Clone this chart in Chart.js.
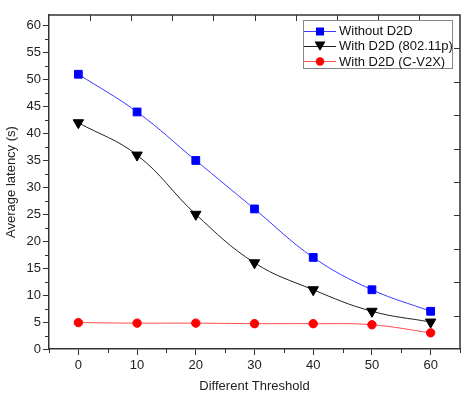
<!DOCTYPE html>
<html><head><meta charset="utf-8">
<script src="https://cdn.jsdelivr.net/npm/chart.js@4.4.0/dist/chart.umd.min.js"></script>
<style>
body{margin:0;background:#fff}
#wrap{position:relative;width:474px;height:397px}
#legend{position:absolute;left:303px;top:20px;width:150px;height:49px;border:1px solid #888;background:#fff;
font:13px "Liberation Sans",Arial,sans-serif;color:#111;box-sizing:border-box;padding-top:2px}
.row{display:flex;align-items:center;height:15.3px;white-space:nowrap}
.row canvas{margin-left:0;margin-right:3px}
</style></head>
<body><div id="wrap"><canvas id="c" width="474" height="397"></canvas><div id="legend"></div></div>
<script>
const categories = [0, 10, 20, 30, 40, 50, 60];
const withoutD2D = [51, 44, 35, 26, 17, 11, 7];
const with80211p = [42, 36, 25, 16, 11, 7, 5];
const withCV2X = [4.9, 4.8, 4.8, 4.7, 4.7, 4.5, 3.0];
const xTicks = [0, 10, 20, 30, 40, 50, 60];
const yTicks = [0, 5, 10, 15, 20, 25, 30, 35, 40, 45, 50, 55, 60];
const seriesNames = ['Without D2D', 'With D2D (802.11p)', 'With D2D (C-V2X)'];

const FONT = '"Liberation Sans", Arial, sans-serif';
const pts = arr => arr.map((v, i) => ({x: categories[i], y: v}));

const styles = [
  {line: '#3a3aff', fill: '#0000ff', shape: 'rect', r: 5.5, rot: 0},
  {line: '#222222', fill: '#000000', shape: 'triangle', r: 6, rot: 180},
  {line: '#ff4a4a', fill: '#ff0000', shape: 'circle', r: 4.2, rot: 0}
];
const data = [withoutD2D, with80211p, withCV2X];

const frame = {
  id: 'frame',
  afterDraw(c) {
    const {ctx, chartArea: a, scales: {x, y}} = c;
    ctx.save();
    ctx.strokeStyle = '#333';
    ctx.lineWidth = 1.5;
    ctx.beginPath();
    ctx.moveTo(a.left, a.top); ctx.lineTo(a.right, a.top); ctx.lineTo(a.right, a.bottom);
    ctx.stroke();
    ctx.lineWidth = 1;
    ctx.beginPath();
    for (let v = -5; v <= 65; v += 10) { const p = Math.round(x.getPixelForValue(v)) + 0.5; ctx.moveTo(p, a.bottom); ctx.lineTo(p, a.bottom + 4); }
    for (let v = 2.5; v < 62; v += 5) { const p = Math.round(y.getPixelForValue(v)) + 0.5; ctx.moveTo(a.left, p); ctx.lineTo(a.left - 4, p); }
    for (let k = 1; k < 10; k++) { const p = Math.round(x.getPixelForValue(-5 + 7 * k)) + 0.5; ctx.moveTo(p, a.top); ctx.lineTo(p, a.top + 6); }
    for (let k = 1; k < 10; k++) { const p = Math.round(y.getPixelForValue(6.2 * k)) + 0.5; ctx.moveTo(a.right, p); ctx.lineTo(a.right - 6, p); }
    ctx.stroke();
    ctx.restore();
  }
};

new Chart(document.getElementById('c'), {
  type: 'line',
  data: {
    datasets: data.map((d, i) => ({
      label: seriesNames[i],
      data: pts(d),
      borderColor: styles[i].line,
      borderWidth: 1,
      backgroundColor: styles[i].fill,
      pointBackgroundColor: styles[i].fill,
      pointBorderColor: styles[i].fill,
      pointBorderWidth: 1,
      pointStyle: styles[i].shape,
      pointRotation: styles[i].rot,
      pointRadius: styles[i].r,
      tension: 0.4,
      fill: false
    }))
  },
  options: {
    responsive: false,
    animation: false,
    layout: {padding: {top: 15, right: 14, left: 0, bottom: 0}},
    plugins: {legend: {display: false}, tooltip: {enabled: false}},
    scales: {
      x: {
        type: 'linear', min: -5, max: 65,
        afterBuildTicks: s => { s.ticks = xTicks.map(v => ({value: v})); },
        afterFit: s => { s.height = 48; },
        grid: {display: true, drawOnChartArea: false, tickLength: 6, color: '#333', tickColor: '#333'},
        border: {color: '#333', width: 1.5},
        ticks: {font: {family: FONT, size: 13}, color: '#222', padding: 3, maxRotation: 0},
        title: {display: true, text: 'Different Threshold', font: {family: FONT, size: 13}, color: '#222', padding: {top: 8, bottom: 3}}
      },
      y: {
        type: 'linear', min: 0, max: 62,
        afterBuildTicks: s => { s.ticks = yTicks.map(v => ({value: v})); },
        afterFit: s => { s.width = 49; },
        grid: {display: true, drawOnChartArea: false, tickLength: 6, color: '#333', tickColor: '#333'},
        border: {color: '#333', width: 1.5},
        ticks: {font: {family: FONT, size: 13}, color: '#222', padding: 2},
        title: {display: true, text: 'Average latency (s)', font: {family: FONT, size: 13}, color: '#222', padding: {top: 4, bottom: 0}}
      }
    }
  },
  plugins: [frame]
});

// legend
const lg = document.getElementById('legend');
seriesNames.forEach((name, i) => {
  const row = document.createElement('div'); row.className = 'row';
  const cv = document.createElement('canvas'); cv.width = 32; cv.height = 14;
  const g = cv.getContext('2d'); const st = styles[i];
  g.strokeStyle = st.line; g.lineWidth = 1; g.beginPath(); g.moveTo(0, 7.5); g.lineTo(32, 7.5); g.stroke();
  g.fillStyle = st.fill; g.beginPath();
  if (st.shape === 'rect') g.rect(12, 3.5, 8, 8);
  else if (st.shape === 'triangle') { g.moveTo(10.5, 2.5); g.lineTo(21.5, 2.5); g.lineTo(16, 12); g.closePath(); }
  else g.arc(16, 7.5, 4.2, 0, Math.PI * 2);
  g.fill();
  const sp = document.createElement('span'); sp.textContent = name;
  row.appendChild(cv); row.appendChild(sp); lg.appendChild(row);
});
</script>
</body></html>
